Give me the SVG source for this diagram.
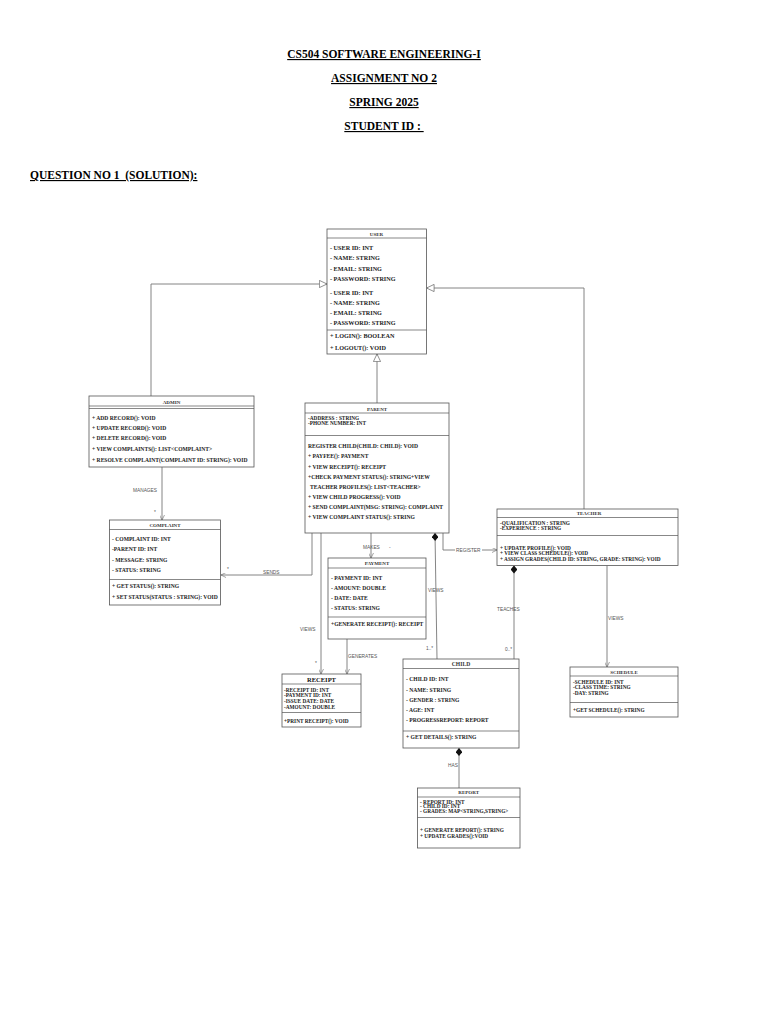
<svg xmlns="http://www.w3.org/2000/svg" width="768" height="1024" viewBox="0 0 768 1024">
<style>
.bg{fill:#fff}
.box{fill:#fff;stroke:#555;stroke-width:0.8}
.dv{stroke:#555;stroke-width:0.7}
.t{font-family:"Liberation Serif",serif;font-weight:bold;font-size:5.6px;fill:#222}
.u{font-size:6.2px}
.s{font-size:5.3px}
.h{font-family:"Liberation Serif",serif;font-weight:bold;font-size:5px;fill:#333;text-anchor:middle}
.lbl{font-family:"Liberation Sans",sans-serif;font-size:4.8px;fill:#555}
.ln{stroke:#777;stroke-width:0.9;fill:none}
.ttl{font-family:"Liberation Serif",serif;font-weight:bold;font-size:11.5px;fill:#000;text-decoration:underline;white-space:pre}
</style>
<defs>
<marker id="open" viewBox="0 0 10 10" refX="10" refY="5" markerWidth="5" markerHeight="5" markerUnits="userSpaceOnUse" orient="auto"><path d="M0,0 L10,5 L0,10" fill="none" stroke="#666" stroke-width="1.2"/></marker>
<marker id="tri" viewBox="0 0 10 10" refX="10" refY="5" markerWidth="8" markerHeight="8" markerUnits="userSpaceOnUse" orient="auto"><path d="M0.5,0.5 L10,5 L0.5,9.5 Z" fill="#fff" stroke="#666" stroke-width="0.9"/></marker>
<marker id="dia" viewBox="0 0 12 10" refX="0" refY="5" markerWidth="8" markerHeight="6.7" markerUnits="userSpaceOnUse" orient="auto"><path d="M0,5 L6,0 L12,5 L6,10 Z" fill="#111"/></marker>
</defs>
<rect class="bg" x="0" y="0" width="768" height="1024"/>

<g id="header">
<text class="ttl" x="384" y="58" text-anchor="middle">CS504 SOFTWARE ENGINEERING-I</text>
<text class="ttl" x="384" y="82" text-anchor="middle">ASSIGNMENT NO 2</text>
<text class="ttl" x="384" y="106" text-anchor="middle">SPRING 2025</text>
<text class="ttl" x="384" y="130" text-anchor="middle">STUDENT ID : </text>
<text class="ttl" x="30" y="179" xml:space="preserve">QUESTION NO 1  (SOLUTION):</text>
</g>

<g id="connectors">
<path class="ln" d="M151,396 V284 H327" marker-end="url(#tri)"/>
<path class="ln" d="M584,509 V288 H426.5" marker-end="url(#tri)"/>
<path class="ln" d="M377,403 V354" marker-end="url(#tri)"/>
<path class="ln" d="M162,467 V520" marker-end="url(#open)"/>
<path class="ln" d="M312,533 V575 H221" marker-end="url(#open)"/>
<path class="ln" d="M321,533 V674" marker-end="url(#open)"/>
<path class="ln" d="M371,533 V558" marker-end="url(#open)"/>
<path class="ln" d="M347,639 V674" marker-end="url(#open)"/>
<path class="ln" d="M435,533 L437,659" marker-start="url(#dia)"/>
<path class="ln" d="M443,533 V550 H455"/>
<path class="ln" d="M482,550 H497" marker-end="url(#open)"/>
<path class="ln" d="M514,565.5 V659" marker-start="url(#dia)"/>
<path class="ln" d="M607,565.5 V667" marker-end="url(#open)"/>
<path class="ln" d="M459,748 V788" marker-start="url(#dia)"/>
<text class="lbl" x="133" y="492">MANAGES</text>
<text class="lbl" x="154" y="514">*</text>
<text class="lbl" x="263" y="574">SENDS</text>
<text class="lbl" x="227" y="571">*</text>
<text class="lbl" x="300" y="631">VIEWS</text>
<text class="lbl" x="315" y="665">*</text>
<text class="lbl" x="363" y="549">MAKES</text>
<text class="lbl" x="389" y="549">-</text>
<text class="lbl" x="348" y="658">GENERATES</text>
<text class="lbl" x="428" y="592">VIEWS</text>
<text class="lbl" x="426" y="650">1..*</text>
<text class="lbl" x="456" y="552">REGISTER</text>
<text class="lbl" x="497" y="611">TEACHES</text>
<text class="lbl" x="505" y="651">0..*</text>
<text class="lbl" x="608" y="620">VIEWS</text>
<text class="lbl" x="448" y="767">HAS</text>
</g>

<g id="user">
<rect class="box" x="327" y="229" width="99.5" height="125"/>
<line class="dv" x1="327" y1="238" x2="426.5" y2="238"/>
<line class="dv" x1="327" y1="330" x2="426.5" y2="330"/>
<text class="h" x="376.5" y="236">USER</text>
<text class="t u" x="330" y="250">- USER ID: INT</text>
<text class="t u" x="330" y="260">- NAME: STRING</text>
<text class="t u" x="330" y="270.5">- EMAIL: STRING</text>
<text class="t u" x="330" y="281">- PASSWORD: STRING</text>
<text class="t u" x="330" y="295">- USER ID: INT</text>
<text class="t u" x="330" y="305">- NAME: STRING</text>
<text class="t u" x="330" y="315">- EMAIL: STRING</text>
<text class="t u" x="330" y="325">- PASSWORD: STRING</text>
<text class="t u" x="330" y="337.5">+ LOGIN(): BOOLEAN</text>
<text class="t u" x="330" y="350">+ LOGOUT(): VOID</text>
</g>

<g id="admin">
<rect class="box" x="89" y="396" width="165" height="71"/>
<line class="dv" x1="89" y1="406" x2="254" y2="406"/>
<line class="dv" x1="89" y1="408.5" x2="254" y2="408.5"/>
<text class="h" x="171.5" y="404">ADMIN</text>
<text class="t" x="92" y="420">+ ADD RECORD(): VOID</text>
<text class="t" x="92" y="430">+ UPDATE RECORD(): VOID</text>
<text class="t" x="92" y="440">+ DELETE RECORD(): VOID</text>
<text class="t" x="92" y="450.5">+ VIEW COMPLAINTS(): LIST&lt;COMPLAINT&gt;</text>
<text class="t" x="92" y="461.5">+ RESOLVE COMPLAINT(COMPLAINT ID: STRING): VOID</text>
</g>

<g id="parent">
<rect class="box" x="305" y="403" width="144" height="130"/>
<line class="dv" x1="305" y1="413" x2="449" y2="413"/>
<line class="dv" x1="305" y1="435.5" x2="449" y2="435.5"/>
<text class="h" x="377" y="410.5">PARENT</text>
<text class="t s" x="308" y="419.5">-ADDRESS : STRING</text>
<text class="t s" x="308" y="424.5">-PHONE NUMBER: INT</text>
<text class="t" x="308" y="447.5"> REGISTER CHILD(CHILD: CHILD): VOID</text>
<text class="t" x="308" y="458">+ PAYFEE(): PAYMENT</text>
<text class="t" x="308" y="469">+ VIEW RECEIPT(): RECEIPT</text>
<text class="t" x="308" y="479">+CHECK PAYMENT STATUS(): STRING+VIEW</text>
<text class="t" x="310" y="489">TEACHER PROFILES(): LIST&lt;TEACHER&gt;</text>
<text class="t" x="308" y="499">+ VIEW CHILD PROGRESS(): VOID</text>
<text class="t" x="308" y="509">+ SEND COMPLAINT(MSG: STRING): COMPLAINT</text>
<text class="t" x="308" y="519">+ VIEW COMPLAINT STATUS(): STRING</text>
</g>

<g id="complaint">
<rect class="box" x="109.5" y="520" width="111" height="85"/>
<line class="dv" x1="109.5" y1="529.5" x2="220.5" y2="529.5"/>
<line class="dv" x1="109.5" y1="579.5" x2="220.5" y2="579.5"/>
<text class="h" x="165" y="527">COMPLAINT</text>
<text class="t" x="112" y="541">- COMPLAINT ID: INT</text>
<text class="t" x="112" y="551">-PARENT ID: INT</text>
<text class="t" x="112" y="561.5">- MESSAGE: STRING</text>
<text class="t" x="112" y="572">- STATUS: STRING</text>
<text class="t" x="112" y="587.5">+ GET STATUS(): STRING</text>
<text class="t" x="112" y="599">+ SET STATUS(STATUS : STRING): VOID</text>
</g>

<g id="payment">
<rect class="box" x="328" y="558" width="98" height="81"/>
<line class="dv" x1="328" y1="568" x2="426" y2="568"/>
<line class="dv" x1="328" y1="617" x2="426" y2="617"/>
<text class="h" x="377" y="565.3">PAYMENT</text>
<text class="t" x="331" y="579.5">- PAYMENT ID: INT</text>
<text class="t" x="331" y="590">- AMOUNT: DOUBLE</text>
<text class="t" x="331" y="600">- DATE: DATE</text>
<text class="t" x="331" y="610">- STATUS: STRING</text>
<text class="t" x="331" y="626">+GENERATE RECEIPT(): RECEIPT</text>
</g>

<g id="receipt">
<rect class="box" x="282" y="674" width="79" height="53"/>
<line class="dv" x1="282" y1="684" x2="361" y2="684"/>
<line class="dv" x1="282" y1="712.5" x2="361" y2="712.5"/>
<text class="h" x="321.5" y="682" style="font-size:6.5px;fill:#111">RECEIPT</text>
<text class="t s" x="284" y="691.8">-RECEIPT ID: INT</text>
<text class="t s" x="284" y="696.8">-PAYMENT ID: INT</text>
<text class="t s" x="284" y="702.5">-ISSUE DATE: DATE</text>
<text class="t s" x="284" y="708.5">-AMOUNT: DOUBLE</text>
<text class="t s" x="284" y="723">+PRINT RECEIPT(): VOID</text>
</g>

<g id="child">
<rect class="box" x="403" y="659" width="116" height="89"/>
<line class="dv" x1="403" y1="668.5" x2="519" y2="668.5"/>
<line class="dv" x1="403" y1="731" x2="519" y2="731"/>
<text class="h" x="461" y="665.8" style="font-size:5.6px">CHILD</text>
<text class="t" x="406" y="681">- CHILD ID: INT</text>
<text class="t" x="406" y="692">- NAME: STRING</text>
<text class="t" x="406" y="702">- GENDER : STRING</text>
<text class="t" x="406" y="712">- AGE: INT</text>
<text class="t" x="406" y="722">- PROGRESSREPORT: REPORT</text>
<text class="t" x="406" y="738.5">+ GET DETAILS(): STRING</text>
</g>

<g id="teacher">
<rect class="box" x="497" y="509" width="181" height="56.5"/>
<line class="dv" x1="497" y1="517.5" x2="678" y2="517.5"/>
<line class="dv" x1="497" y1="535.5" x2="678" y2="535.5"/>
<text class="h" x="589" y="515">TEACHER</text>
<text class="t s" x="500" y="524.6">-QUALIFICATION : STRING</text>
<text class="t s" x="500" y="529.6">-EXPERIENCE : STRING</text>
<text class="t s" x="500" y="549.5">+ UPDATE PROFILE(): VOID</text>
<text class="t s" x="500" y="555.3">+ VIEW CLASS SCHEDULE(): VOID</text>
<text class="t s" x="500" y="561">+ ASSIGN GRADES(CHILD ID: STRING, GRADE: STRING): VOID</text>
</g>

<g id="schedule">
<rect class="box" x="570" y="667" width="108" height="50"/>
<line class="dv" x1="570" y1="676" x2="678" y2="676"/>
<line class="dv" x1="570" y1="702.5" x2="678" y2="702.5"/>
<text class="h" x="624" y="673.5">SCHEDULE</text>
<text class="t s" x="573" y="683.5">-SCHEDULE ID: INT</text>
<text class="t s" x="573" y="689">-CLASS TIME: STRING</text>
<text class="t s" x="573" y="694.5">-DAY: STRING</text>
<text class="t s" x="573" y="712">+GET SCHEDULE(): STRING</text>
</g>

<g id="report">
<rect class="box" x="417.5" y="788" width="102.5" height="60"/>
<line class="dv" x1="417.5" y1="797" x2="520" y2="797"/>
<line class="dv" x1="417.5" y1="817.5" x2="520" y2="817.5"/>
<text class="h" x="468.7" y="794">REPORT</text>
<text class="t s" x="420" y="803.5">- REPORT ID: INT</text>
<text class="t s" x="420" y="808.3">- CHILD ID: INT</text>
<text class="t s" x="420" y="813.2">- GRADES: MAP&lt;STRING,STRING&gt;</text>
<text class="t s" x="420" y="831.8">+ GENERATE REPORT(): STRING</text>
<text class="t s" x="420" y="837.5">+ UPDATE GRADES():VOID</text>
</g>
</svg>
